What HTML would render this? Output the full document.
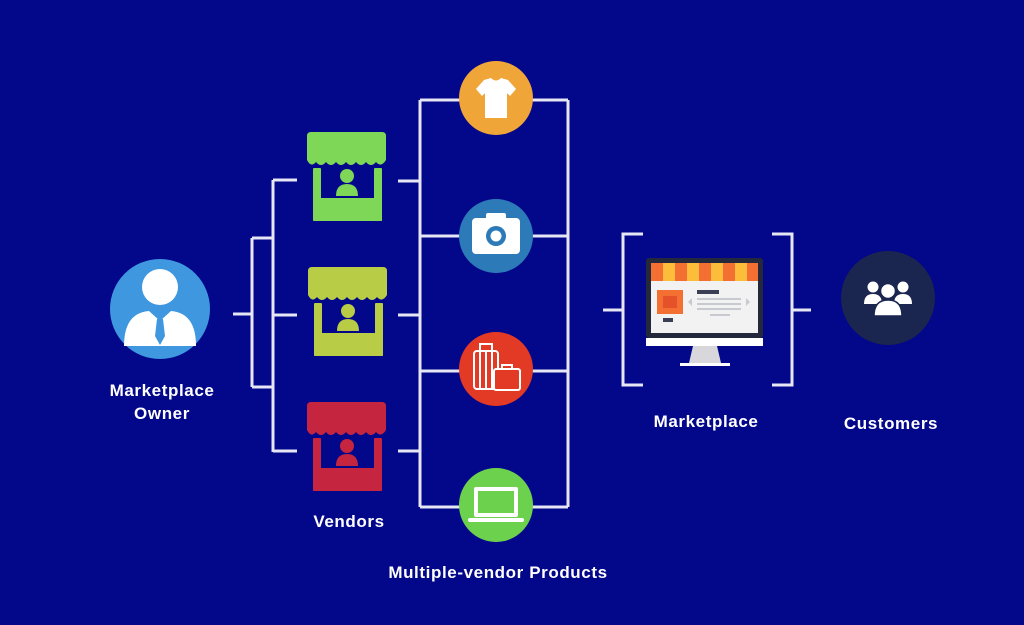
<!DOCTYPE html>
<html><head><meta charset="utf-8"><style>
html,body{margin:0;padding:0;background:#03078a;}
svg{display:block}
text{font-family:"Liberation Sans",sans-serif;font-weight:bold;fill:#fff;font-size:17px;letter-spacing:0.6px}
</style></head><body>
<svg width="1024" height="625" viewBox="0 0 1024 625" xmlns="http://www.w3.org/2000/svg">
<rect width="1024" height="625" fill="#03078a"/>
<defs>
<g id="shop">
  <path d="M4,0 H75 Q79,0 79,4 V28 Q74,36 69,30 Q64,36 59,30 Q54,36 49,30 Q44,36 39,30 Q34,36 29,30 Q24,36 19,30 Q14,36 9,30 Q4,36 0,28 V4 Q0,0 4,0 Z"/>
  <rect x="6" y="36" width="8" height="53" rx="1"/>
  <rect x="67" y="36" width="8" height="53" rx="1"/>
  <rect x="6" y="66" width="69" height="23" rx="1"/>
  <circle cx="40" cy="44" r="7"/>
  <path d="M29,64 Q29,52 40,52 Q51,52 51,64 Z"/>
</g>
</defs>
<g stroke="#e6e6f5" stroke-width="3" fill="none">
  <path d="M233,314 H252 M252,238 V387 M252,238 H273 M252,387 H273 M273,180 V452 M273,180 H297 M273,315 H297 M273,451 H297"/>
  <path d="M398,181 H420 M398,315 H420 M398,451 H420"/>
  <path d="M420,100 V507 M568,100 V507 M420,100 H568 M420,236 H568 M420,371 H568 M420,507 H568"/>
  <path d="M603,310 H623 M643,234 H623 V385 H643"/>
  <path d="M772,234 H792 V385 H772 M792,310 H811"/>
</g>
<!-- owner -->
<circle cx="160" cy="309" r="50" fill="#3f97e0"/>
<circle cx="160" cy="287" r="18" fill="#fff"/>
<path d="M124,346 Q124,313 149,311 L160,321 L171,311 Q196,313 196,346 Z" fill="#fff"/>
<path d="M157,319 L163,319 L165,336 L160,345 L155,336 Z" fill="#3f97e0"/>
<text x="162" y="396" text-anchor="middle">Marketplace</text>
<text x="162" y="419" text-anchor="middle">Owner</text>
<!-- shops -->
<use href="#shop" x="307" y="132" fill="#7ed756"/>
<use href="#shop" x="308" y="267" fill="#b8cc46"/>
<use href="#shop" x="307" y="402" fill="#c6253f"/>
<text x="349" y="527" text-anchor="middle">Vendors</text>
<!-- products -->
<circle cx="496" cy="98" r="37" fill="#f0a539"/>
<path d="M484,80 L491,78 Q496,83 501,78 L508,80 L516,89 L510,96 L507,93 V118 H485 V93 L482,96 L476,89 Z" fill="#fff"/>
<circle cx="496" cy="236" r="37" fill="#2d7ab8"/>
<rect x="472" y="218" width="48" height="36" rx="4" fill="#fff"/>
<rect x="486" y="213" width="20" height="8" rx="2" fill="#fff"/>
<circle cx="496" cy="236" r="10" fill="#2d7ab8"/><circle cx="496" cy="236" r="5.5" fill="#fff"/>
<circle cx="496" cy="369" r="37" fill="#e33a26"/>
<g fill="none" stroke="#fff" stroke-width="2">
<rect x="474" y="351" width="24" height="38" rx="3"/><path d="M480,351 V344 H492 V351 M480,351 V389 M486,351 V389 M492,351 V389"/>
<rect x="494" y="369" width="26" height="21" rx="2" fill="#e33a26"/><path d="M502,369 V365 H512 V369"/></g>
<circle cx="496" cy="505" r="37" fill="#6cd24e"/>
<rect x="474" y="487" width="44" height="30" rx="2" fill="#fff"/>
<rect x="478" y="491" width="36" height="22" fill="#6cd24e"/>
<rect x="468" y="518" width="56" height="4" rx="2" fill="#fff"/>
<text x="498" y="578" text-anchor="middle">Multiple-vendor Products</text>
<!-- monitor -->
<rect x="646" y="258" width="117" height="80" rx="3" fill="#23283a"/>
<rect x="651" y="263" width="107" height="70" fill="#f2f2f2"/>
<g fill="#f36f32"><rect x="651" y="263" width="12" height="18"/><rect x="675" y="263" width="12" height="18"/><rect x="699" y="263" width="12" height="18"/><rect x="723" y="263" width="12" height="18"/><rect x="747" y="263" width="11" height="18"/></g>
<g fill="#fbbd3a"><rect x="663" y="263" width="12" height="18"/><rect x="687" y="263" width="12" height="18"/><rect x="711" y="263" width="12" height="18"/><rect x="735" y="263" width="12" height="18"/></g>
<rect x="657" y="290" width="26" height="24" fill="#f36f32"/><rect x="663" y="296" width="14" height="12" fill="#e5522a"/>
<rect x="663" y="318" width="10" height="4" fill="#3a3f55"/>
<rect x="697" y="290" width="22" height="4" fill="#3a3f55"/>
<g fill="#c9c9d0"><rect x="697" y="298" width="44" height="2"/><rect x="697" y="303" width="44" height="2"/><rect x="697" y="308" width="44" height="2"/><rect x="710" y="314" width="20" height="2"/></g>
<path d="M692,298 L688,302 L692,306 Z M746,298 L750,302 L746,306 Z" fill="#c9c9d0"/>
<rect x="646" y="338" width="117" height="8" fill="#fff"/>
<path d="M693,346 H717 L721,363 H689 Z" fill="#d8d8dc"/>
<rect x="680" y="363" width="50" height="3" fill="#fff"/>
<text x="706" y="427" text-anchor="middle">Marketplace</text>
<!-- customers -->
<circle cx="888" cy="298" r="47" fill="#1a2550"/>
<g fill="#fff"><circle cx="873" cy="287" r="5.5"/><circle cx="903" cy="287" r="5.5"/>
<path d="M864,304 Q864,294 873,294 Q882,294 882,304 Z M894,304 Q894,294 903,294 Q912,294 912,304 Z"/>
<circle cx="888" cy="291" r="7.5" stroke="#1a2550" stroke-width="1.5"/>
<path d="M874,316 Q874,300 888,300 Q902,300 902,316 Z" stroke="#1a2550" stroke-width="1.5"/></g>
<text x="891" y="429" text-anchor="middle">Customers</text>
</svg>
</body></html>
